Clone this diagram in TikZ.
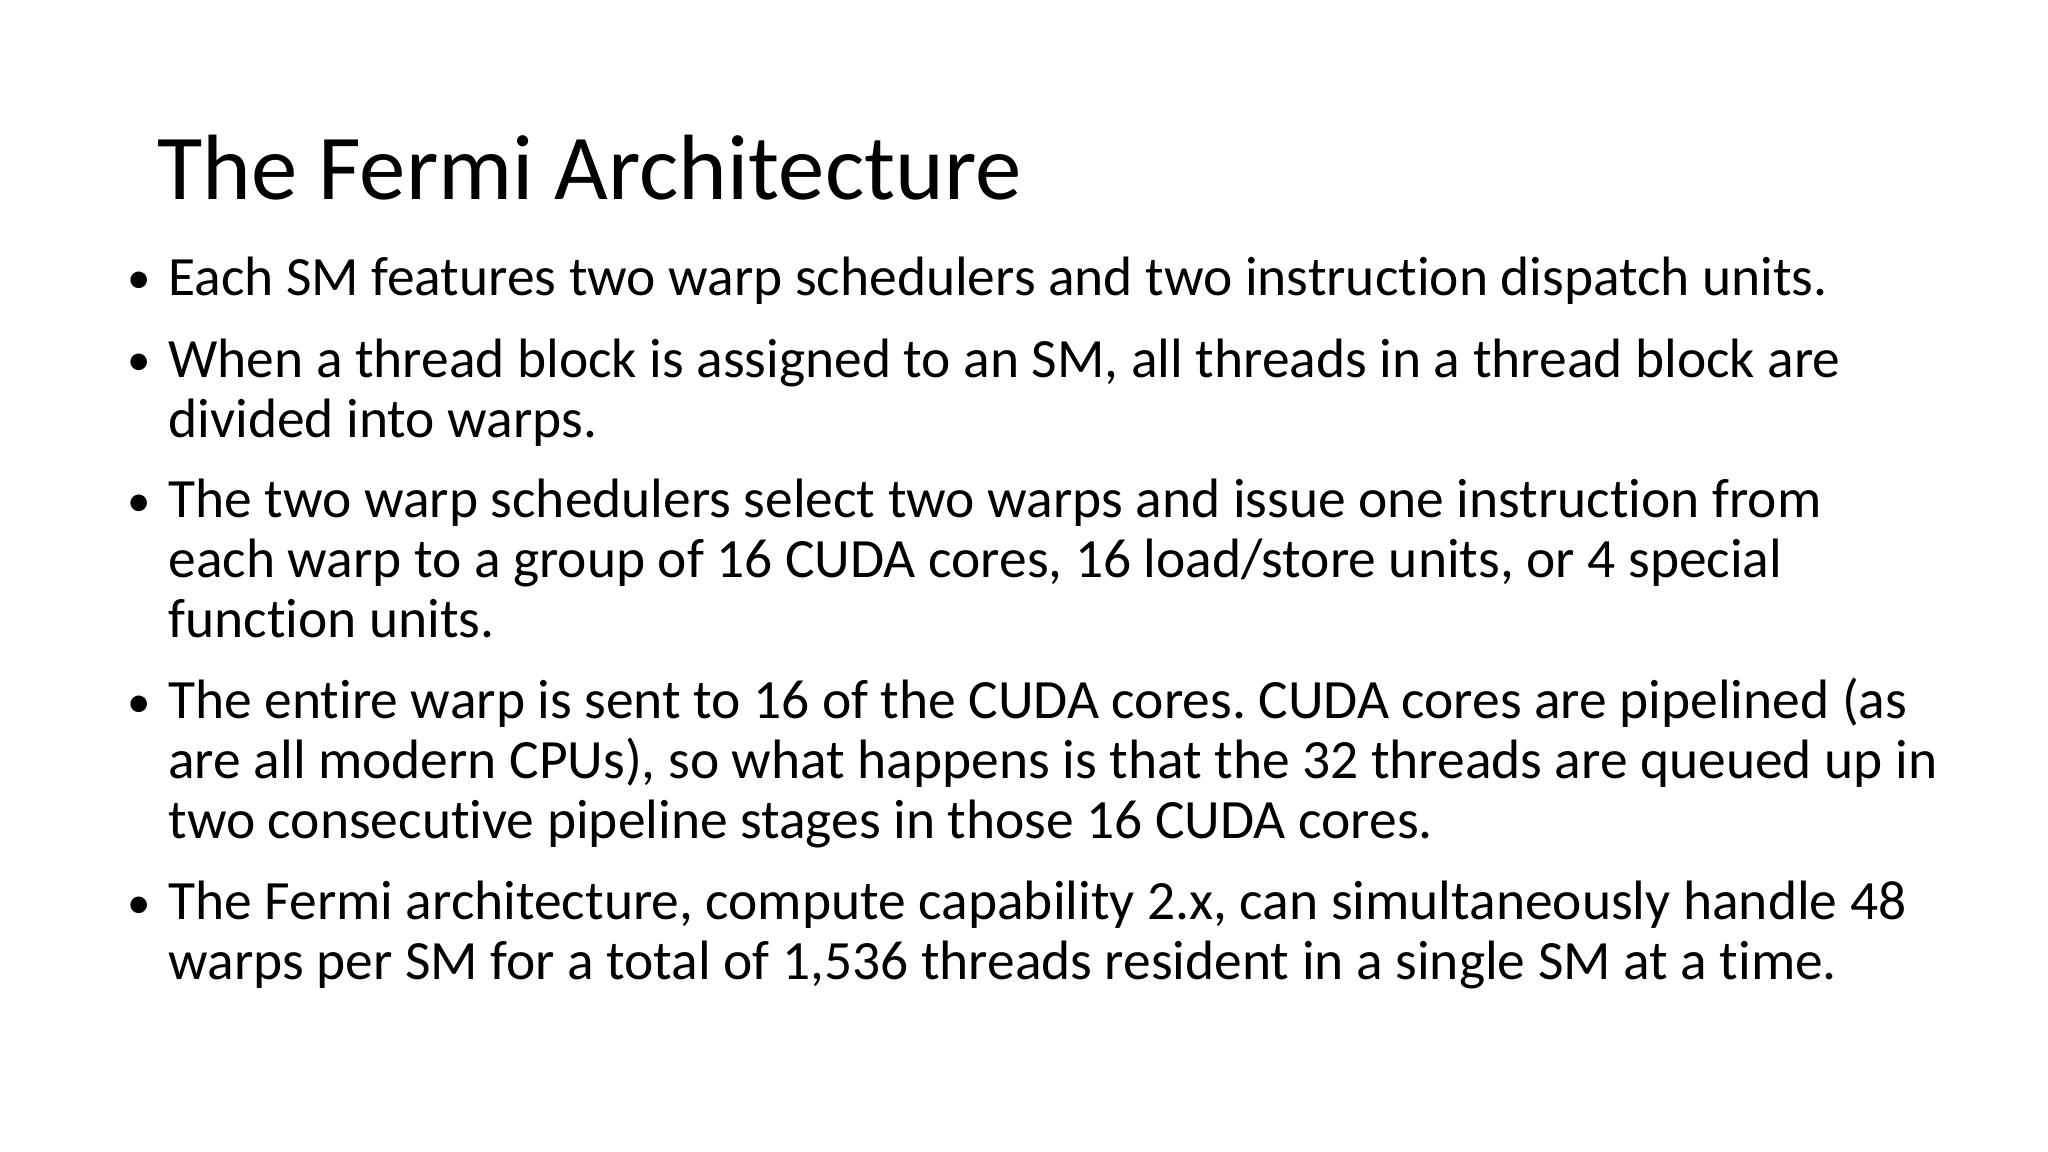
\documentclass[tikz,border=0pt]{standalone}
\usepackage{fontspec}
\setmainfont{Carlito}[Ligatures=NoCommon]
\frenchspacing
\begin{document}
\begin{tikzpicture}[
        x=0.46875pt, y=-0.46875pt,
        title/.style={anchor=base west, inner sep=0pt,
            font=\fontsize{43.5}{52}\selectfont},
        item/.style={anchor=base west, inner sep=0pt, align=left,
            font=\fontsize{26}{28.1}\selectfont},
        dot/.style={anchor=base west, inner sep=0pt,
            font=\fontsize{22}{28.1}\selectfont},
    ]
    % page
    \useasboundingbox[fill=white] (0,0) rectangle (2048,1152);
    \node[title] (title) at (157,200) {The Fermi Architecture};
    % bullets
    \node[dot] (b1) at (127,294) {\textbullet};
    \node[dot] (b2) at (127,375) {\textbullet};
    \node[dot] (b3) at (127,516) {\textbullet};
    \node[dot] (b4) at (127,717) {\textbullet};
    \node[dot] (b5) at (127,918) {\textbullet};
    % items (base = last line)
    \node[item] (p1) at (168,296) {Each SM features two warp schedulers and two instruction dispatch units.};
    \node[item] (p2) at (168,437) {When a thread block is assigned to an SM, all threads in a thread block are\\
        divided into warps.};
    \node[item] (p3) at (168,637) {The two warp schedulers select two warps and issue one instruction from\\
        each warp to a group of 16 CUDA cores, 16 load/store units, or 4 special\\
        function units.};
    \node[item] (p4) at (168,838) {The entire warp is sent to 16 of the CUDA cores. CUDA cores are pipelined (as\\
        are all modern CPUs), so what happens is that the 32 threads are queued up in\\
        two consecutive pipeline stages in those 16 CUDA cores.};
    \node[item] (p5) at (168,979) {The Fermi architecture, compute capability 2.x, can simultaneously handle 48\\
        warps per SM for a total of 1,536 threads resident in a single SM at a time.};
\end{tikzpicture}
\end{document}
